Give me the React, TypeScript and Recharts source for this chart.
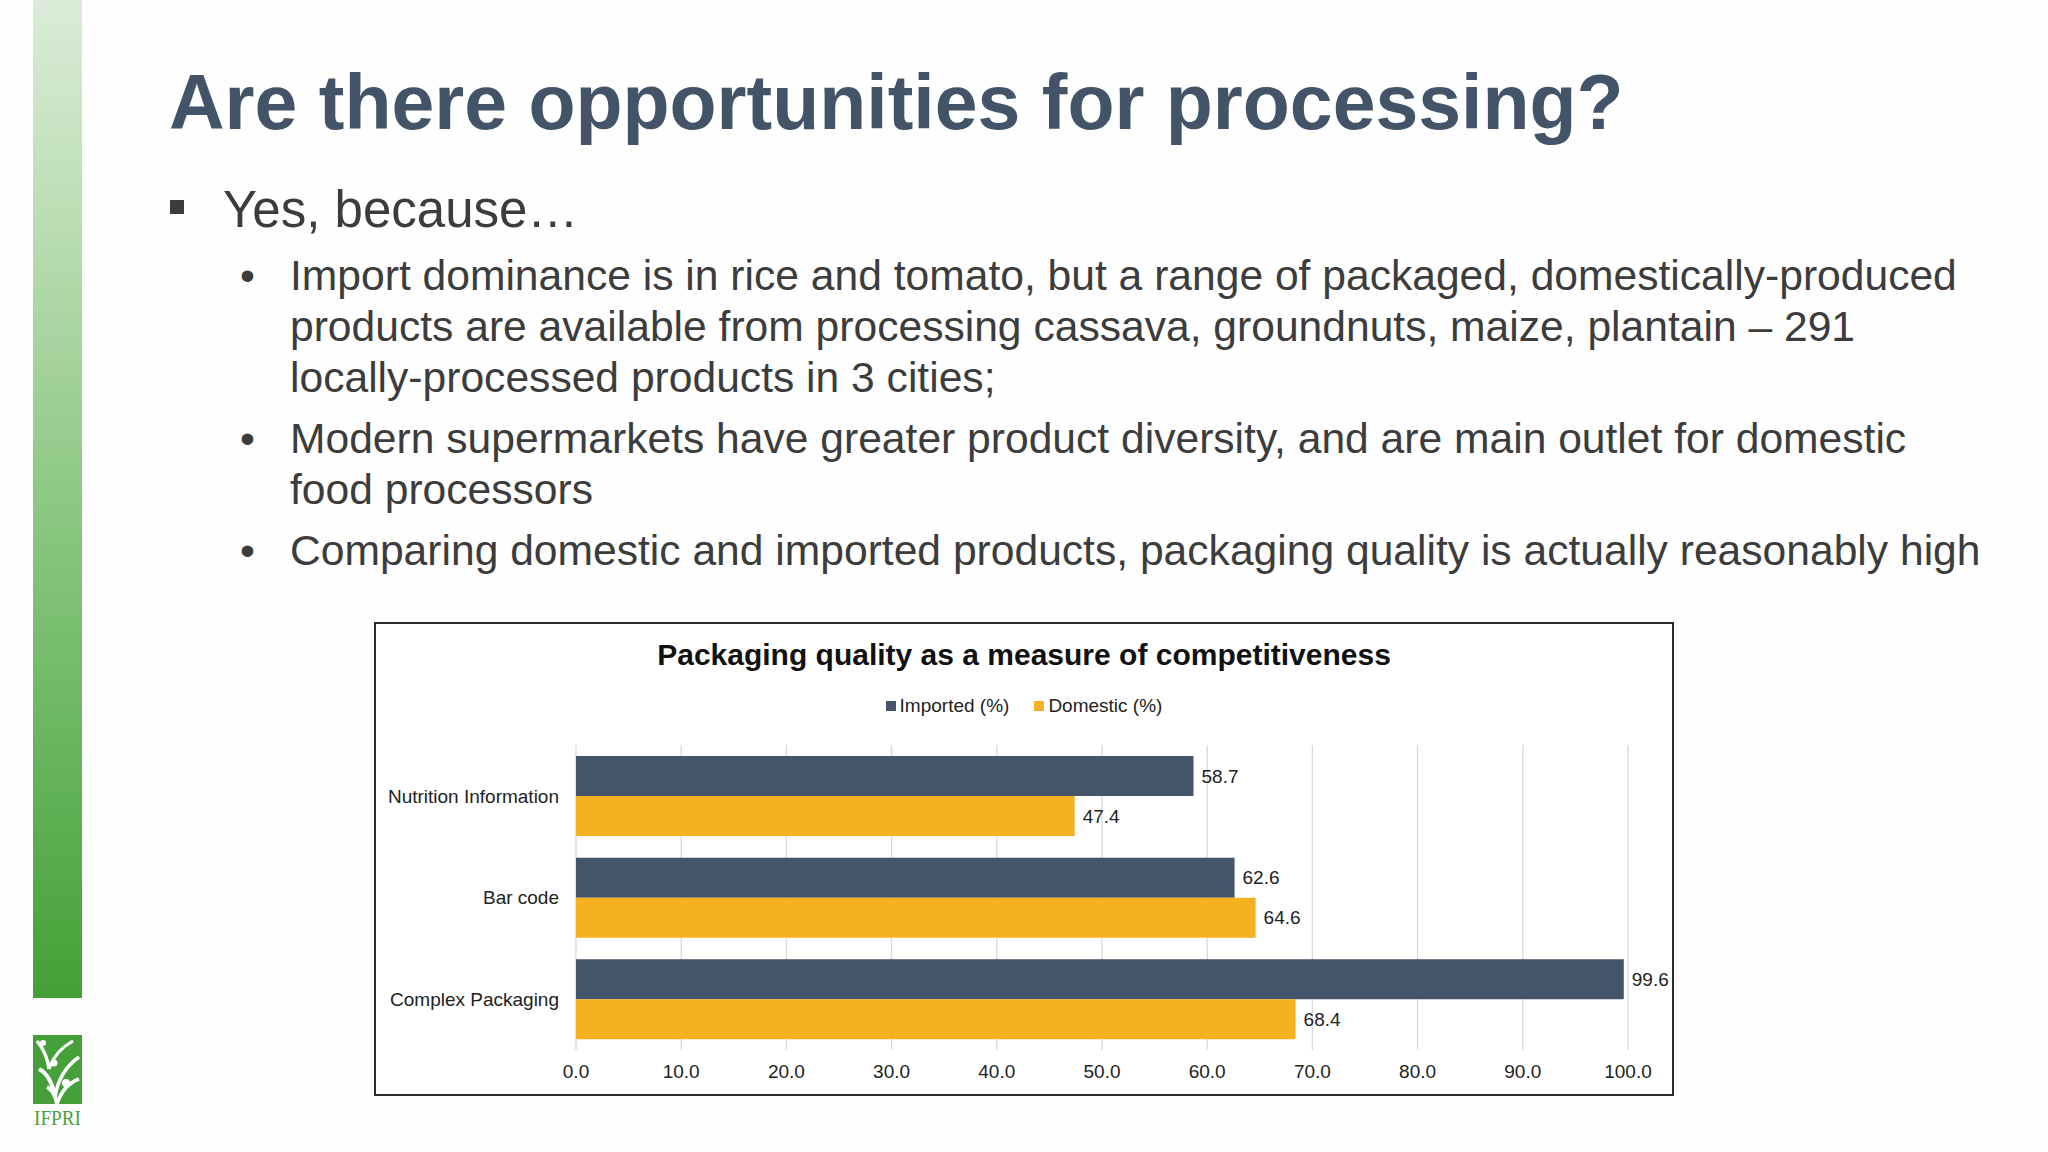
import React from "react";
import {
  BarChart,
  Bar,
  XAxis,
  YAxis,
  CartesianGrid,
  LabelList,
} from "recharts";

// Packaging quality, share of products (%)
const categories = ["Nutrition Information", "Bar code", "Complex Packaging"];
const importedPct = [58.7, 62.6, 99.6];
const domesticPct = [47.4, 64.6, 68.4];
const xTicks = [0, 10, 20, 30, 40, 50, 60, 70, 80, 90, 100];

const seriesNames = ["Imported (%)", "Domestic (%)"];
const seriesColors = ["#44546A", "#F4B223"];

const chartTitle = "Packaging quality as a measure of competitiveness";
const slideTitle = "Are there opportunities for processing?";
const leadBullet = "Yes, because…";
const subBullets = [
  [
    "Import dominance is in rice and tomato, but a range of packaged, domestically-produced",
    "products are available from processing cassava, groundnuts, maize, plantain – 291",
    "locally-processed products in 3 cities;",
  ],
  [
    "Modern supermarkets have greater product diversity, and are main outlet for domestic",
    "food processors",
  ],
  [
    "Comparing domestic and imported products, packaging quality is actually reasonably high",
  ],
];

const FONT = "'Liberation Sans', Arial, sans-serif";

const chartData = categories.map((c, i) => ({
  category: c,
  imported: importedPct[i],
  domestic: domesticPct[i],
}));

const fmt = (v: number) => Number(v).toFixed(1);

const Logo = () => (
  <svg
    width={60}
    height={104}
    style={{ position: "absolute", left: 28, top: 1030 }}
    viewBox="0 0 60 104"
  >
    <g transform="translate(5,5)">
      <rect x={0} y={0} width={49} height={69} fill="#45a03a" />
      <path d="M4 6 Q14 18 16 34" stroke="#fff" strokeWidth={3.5} fill="none" />
      <path d="M6 34 Q18 40 22 62" stroke="#fff" strokeWidth={4} fill="none" />
      <path d="M22 62 Q26 36 46 22" stroke="#fff" strokeWidth={3.5} fill="none" />
      <path d="M14 52 Q22 56 24 69" stroke="#fff" strokeWidth={4} fill="none" />
      <path d="M24 69 Q30 50 46 44" stroke="#fff" strokeWidth={3.5} fill="none" />
      <path d="M16 34 Q22 16 40 6" stroke="#fff" strokeWidth={3} fill="none" />
      <circle cx={10} cy={8} r={3} fill="#fff" />
      <circle cx={21} cy={28} r={3.5} fill="#fff" />
      <circle cx={33} cy={48} r={4} fill="#fff" />
      <text
        x={1}
        y={90}
        fontFamily="'Liberation Serif', serif"
        fontSize={22}
        fill="#4aa03f"
        textLength={47}
        lengthAdjust="spacingAndGlyphs"
      >
        IFPRI
      </text>
    </g>
  </svg>
);

export default function App() {
  const bodyLines: { text: string; top: number; bullet: boolean }[] = [];
  let top = 250;
  subBullets.forEach((group) => {
    group.forEach((line, j) => {
      bodyLines.push({ text: line, top, bullet: j === 0 });
      top += 51;
    });
    top += 10;
  });

  return (
    <div
      style={{
        position: "absolute",
        left: 0,
        top: 0,
        width: 2048,
        height: 1152,
        background: "#fdfefd",
        fontFamily: FONT,
        overflow: "hidden",
      }}
    >
      {/* green side strip */}
      <div
        style={{
          position: "absolute",
          left: 33,
          top: 0,
          width: 49,
          height: 998,
          background:
            "linear-gradient(to bottom, #dbecd8 0%, #b6dbae 25%, #8dc884 50%, #68b55d 75%, #44a036 100%)",
        }}
      />
      <Logo />

      <div
        style={{
          position: "absolute",
          left: 169,
          top: 64,
          fontSize: 77,
          lineHeight: "77px",
          fontWeight: 700,
          color: "#435468",
          whiteSpace: "nowrap",
        }}
      >
        {slideTitle}
      </div>

      <div
        style={{
          position: "absolute",
          left: 170,
          top: 200,
          width: 14,
          height: 14,
          background: "#3c3c3c",
        }}
      />
      <div
        style={{
          position: "absolute",
          left: 223,
          top: 184,
          fontSize: 51,
          lineHeight: "51px",
          color: "#3c3c3c",
          whiteSpace: "nowrap",
        }}
      >
        {leadBullet}
      </div>

      {bodyLines.map((l, i) => (
        <React.Fragment key={i}>
          {l.bullet && (
            <div
              style={{
                position: "absolute",
                left: 240,
                top: l.top,
                fontSize: 42.6,
                lineHeight: "51px",
                color: "#3c3c3c",
              }}
            >
              •
            </div>
          )}
          <div
            style={{
              position: "absolute",
              left: 290,
              top: l.top,
              fontSize: 42.6,
              lineHeight: "51px",
              color: "#3c3c3c",
              whiteSpace: "nowrap",
            }}
          >
            {l.text}
          </div>
        </React.Fragment>
      ))}

      {/* chart frame */}
      <div
        style={{
          position: "absolute",
          left: 374,
          top: 622,
          width: 1296,
          height: 470,
          border: "2px solid #2b2b2b",
          background: "#ffffff",
        }}
      >
        <div
          style={{
            position: "absolute",
            left: 0,
            top: 16,
            width: 1296,
            textAlign: "center",
            fontSize: 30,
            lineHeight: "30px",
            fontWeight: 700,
            color: "#111",
          }}
        >
          {chartTitle}
        </div>
        <div
          style={{
            position: "absolute",
            left: 0,
            top: 72,
            width: 1296,
            display: "flex",
            justifyContent: "center",
            gap: 25,
            fontSize: 19,
            lineHeight: "19px",
            color: "#222",
          }}
        >
          {seriesNames.map((n, i) => (
            <div key={n} style={{ display: "flex", alignItems: "center" }}>
              <span
                style={{
                  display: "inline-block",
                  width: 10,
                  height: 10,
                  background: seriesColors[i],
                  marginRight: 4,
                }}
              />
              {n}
            </div>
          ))}
        </div>

        <BarChart
          width={1296}
          height={470}
          layout="vertical"
          data={chartData}
          margin={{ top: 121, right: 44, bottom: 0, left: 0 }}
          barGap={0}
          barSize={40}
          style={{ position: "absolute", left: 0, top: 0 }}
        >
          <CartesianGrid horizontal={false} stroke="#d9d9d9" strokeWidth={1.3} />
          <XAxis
            type="number"
            domain={[0, 100]}
            ticks={xTicks}
            tickFormatter={fmt}
            axisLine={false}
            tickLine={false}
            tickMargin={9}
            height={44}
            tick={{ fill: "#222", fontSize: 19, fontFamily: FONT }}
          />
          <YAxis
            type="category"
            dataKey="category"
            width={200}
            axisLine={false}
            tickLine={false}
            tickMargin={11}
            tick={{ fill: "#222", fontSize: 19, fontFamily: FONT }}
          />
          <Bar
            dataKey="imported"
            name={seriesNames[0]}
            fill={seriesColors[0]}
            isAnimationActive={false}
          >
            <LabelList
              dataKey="imported"
              position="right"
              offset={8}
              formatter={fmt}
              fill="#222"
              fontSize={19}
              fontFamily={FONT}
            />
          </Bar>
          <Bar
            dataKey="domestic"
            name={seriesNames[1]}
            fill={seriesColors[1]}
            isAnimationActive={false}
          >
            <LabelList
              dataKey="domestic"
              position="right"
              offset={8}
              formatter={fmt}
              fill="#222"
              fontSize={19}
              fontFamily={FONT}
            />
          </Bar>
        </BarChart>
      </div>
    </div>
  );
}
